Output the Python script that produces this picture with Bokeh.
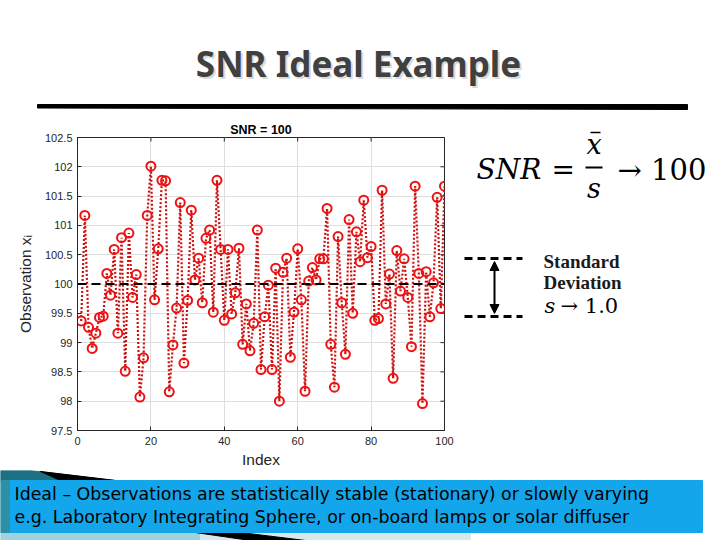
from bokeh.plotting import figure
from bokeh.layouts import column, row
from bokeh.models import Range1d, FixedTicker, Arrow, NormalHead, Span
from bokeh.core.properties import value
from bokeh.embed import file_html
from bokeh.resources import INLINE

# ---------------- data ----------------
index = list(range(1, 101))
obs = [99.37, 101.17, 99.26, 98.90, 99.16, 99.43, 99.45, 100.18, 99.81, 100.59,
       99.16, 100.79, 98.51, 100.87, 99.77, 100.16, 98.07, 98.74, 101.17, 102.01,
       99.73, 100.60, 101.77, 101.76, 98.16, 98.96, 99.59, 101.39, 98.65, 99.72,
       101.26, 100.07, 100.44, 99.68, 100.78, 100.92, 99.52, 101.77, 100.59, 99.38,
       100.59, 99.49, 99.85, 100.61, 98.97, 99.66, 98.86, 99.33, 100.92, 98.54,
       99.44, 99.98, 98.54, 100.27, 98.00, 100.20, 100.44, 98.75, 99.52, 100.60,
       99.73, 98.17, 100.05, 100.28, 100.07, 100.43, 100.43, 101.29, 98.97, 98.24,
       100.81, 99.68, 98.80, 101.10, 99.50, 100.89, 100.38, 101.43, 100.45, 100.64,
       99.38, 99.41, 101.60, 99.66, 100.17, 98.39, 100.57, 99.88, 100.43, 99.77,
       98.93, 101.67, 100.18, 97.96, 100.21, 99.44, 100.02, 101.48, 99.58, 101.67]
mean_level = 100
x_ticks = [0, 20, 40, 60, 80, 100]
y_ticks = [97.5, 98, 98.5, 99, 99.5, 100, 100.5, 101, 101.5, 102, 102.5]
y_tick_labels = ["97.5", "98", "98.5", "99", "99.5", "100", "100.5", "101", "101.5", "102", "102.5"]

slide_title = "SNR Ideal Example"
chart_title = "SNR = 100"
x_label = "Index"
y_label = "Observation x\u1d62"
note_lines = ["Ideal \u2013 Observations are statistically stable (stationary) or slowly varying",
              "e.g. Laboratory Integrating Sphere, or on-board lamps or solar diffuser"]
std_lines = ["Standard", "Deviation"]

SANS = "Liberation Sans"
SERIF = "DejaVu Serif"


def deco_fig(w, h, x0, x1, ytop, ybot):
    f = figure(width=w, height=h, x_range=Range1d(x0, x1), y_range=Range1d(ybot, ytop),
               x_axis_type=None, y_axis_type=None, toolbar_location=None,
               output_backend="svg", min_border=0)
    f.outline_line_color = None
    f.background_fill_color = "white"
    f.border_fill_color = "white"
    f.grid.visible = False
    f.frame_align = False
    return f

# ---------------- top: slide title ----------------
top = deco_fig(720, 115, 0, 720, 0, 115)
top.text(x=[360], y=[65], text=[slide_title], text_font=value("Noto Sans"),
         text_font_size="35px", text_font_style="bold", text_color="#dadada",
         text_align="center", text_baseline="middle")
top.text(x=[358], y=[63], text=[slide_title], text_font=value("Noto Sans"),
         text_font_size="35px", text_font_style="bold", text_color="#404040",
         text_align="center", text_baseline="middle")
top.patch(x=[37, 687, 687, 37], y=[104, 104, 109, 107.5], color="black")

# ---------------- chart ----------------
p = figure(width=455, height=355, x_range=Range1d(0, 100), y_range=Range1d(97.5, 102.5),
           toolbar_location=None, output_backend="svg",
           min_border_left=77, min_border_right=11, min_border_top=22, min_border_bottom=40)
p.frame_align = False
p.background_fill_color = "white"
p.border_fill_color = "white"
p.outline_line_color = "#262626"
p.title.text = chart_title
p.title.align = "center"
p.title.text_font = SANS
p.title.text_font_size = "12.5px"
p.title.text_font_style = "bold"
p.title.text_color = "black"
p.title.standoff = 2

p.xaxis.ticker = FixedTicker(ticks=x_ticks)
p.yaxis.ticker = FixedTicker(ticks=y_ticks)
p.yaxis.major_label_overrides = {t: l for t, l in zip(y_ticks, y_tick_labels)}
p.xaxis.axis_label = x_label
p.yaxis.axis_label = y_label
for ax in (p.xaxis, p.yaxis):
    ax.axis_label_text_font = SANS
    ax.axis_label_text_font_size = "15.5px"
    ax.axis_label_text_font_style = "normal"
    ax.axis_label_text_color = "#262626"
    ax.major_label_text_font = SANS
    ax.major_label_text_font_size = "11px"
    ax.major_label_text_color = "#262626"
    ax.axis_line_color = "#262626"
    ax.major_tick_line_color = "#262626"
    ax.major_tick_in = 4
    ax.major_tick_out = 0
    ax.minor_tick_line_color = None
p.xaxis.axis_label_standoff = 3
p.xaxis.major_label_standoff = 6
p.yaxis.axis_label_standoff = 8
p.yaxis.major_label_standoff = 5

p.grid.grid_line_color = "#dedede"
p.grid.grid_line_width = 1

# inner tick marks on the right and top edges (box style)
tick_dx = 4 * 100 / 367.0
tick_dy = 4 * 5 / 293.0
p.segment(x0=[100 - tick_dx] * len(y_ticks), y0=y_ticks, x1=[100] * len(y_ticks), y1=y_ticks,
          line_color="#262626", line_width=1)
p.segment(x0=x_ticks, y0=[102.5 - tick_dy] * len(x_ticks), x1=x_ticks, y1=[102.5] * len(x_ticks),
          line_color="#262626", line_width=1)

p.add_layout(Span(location=mean_level, dimension="width", line_color="black",
                  line_width=2, line_dash="9 5"))
p.line(index, obs, line_color="#cc1111", line_width=2.2, line_dash="2 2")
p.scatter(index, obs, marker="circle", size=9, fill_color="white", fill_alpha=0.0,
          line_color="#ee1111", line_width=2)

# ---------------- right: formula ----------------
rt = deco_fig(265, 355, 455, 720, 115, 470)
rt.text(x=[476], y=[169], text=["SNR"], text_font=value(SERIF), text_font_size="28px",
        text_font_style="italic", text_color="black", text_baseline="alphabetic")
rt.text(x=[551], y=[169], text=["="], text_font=value(SERIF), text_font_size="28px",
        text_color="black", text_baseline="alphabetic")
rt.text(x=[593.5], y=[144], text=["x"], text_font=value(SERIF), text_font_size="27px",
        text_font_style="italic", text_color="black", text_align="center",
        text_baseline="alphabetic")
rt.segment(x0=[590], y0=[132], x1=[600], y1=[132], line_color="black", line_width=1.5)
rt.segment(x0=[585], y0=[167], x1=[602], y1=[167], line_color="black", line_width=1.8)
rt.text(x=[593.5], y=[188], text=["s"], text_font=value(SERIF), text_font_size="27px",
        text_font_style="italic", text_color="black", text_align="center",
        text_baseline="alphabetic")
rt.text(x=[617], y=[169], text=["\u2192 100"], text_font=value(SERIF), text_font_size="29px",
        text_color="black", text_baseline="alphabetic")

for yy in (258, 316):
    rt.segment(x0=[464], y0=[yy], x1=[522], y1=[yy], line_color="black", line_width=3,
               line_dash="8 5")
rt.add_layout(Arrow(start=NormalHead(size=9, fill_color="black", line_color="black"),
                    end=NormalHead(size=9, fill_color="black", line_color="black"),
                    x_start=494, y_start=261, x_end=494, y_end=313,
                    line_color="black", line_width=2))
rt.text(x=[543, 543], y=[261, 282], text=std_lines, text_font=value("Liberation Serif"),
        text_font_size="19px", text_font_style="bold", text_color="#1a1a1a",
        text_baseline="alphabetic")
rt.text(x=[544], y=[305], text=["s"], text_font=value(SERIF), text_font_size="21px",
        text_font_style="italic", text_color="black", text_baseline="alphabetic")
rt.text(x=[560], y=[305], text=["\u2192 1.0"], text_font=value(SERIF), text_font_size="21px",
        text_color="black", text_baseline="alphabetic")

# ---------------- bottom: note box & decoration ----------------
bt = deco_fig(720, 70, 0, 720, 470, 540)
bt.patch(x=[0, 30, 115, 0], y=[470, 470, 480, 480], color="#1d6f82")
bt.patch(x=[40, 115, 60], y=[471, 480, 480], color="black")
bt.patch(x=[0, 200, 200, 0], y=[532, 532, 540, 540], color="#9fd2df")
bt.patch(x=[0, 10, 10, 0], y=[480, 480, 532, 532], color="#2b8fa5")
bt.patch(x=[200, 470, 470, 200], y=[532, 532, 540, 540], color="#d8e8ef")
bt.patch(x=[195, 240, 305, 250], y=[532, 532, 540, 540], color="black")
bt.quad(left=[10], right=[702], top=[480], bottom=[532], color="#14a6ea")
bt.text(x=[14, 14], y=[493, 516], text=note_lines, text_font=value("DejaVu Sans"),
        text_font_size="17.4px", text_color="black", text_baseline="middle")

layout = column(top, row(p, rt), bt)
open("out.html", "w").write(file_html(layout, INLINE))
